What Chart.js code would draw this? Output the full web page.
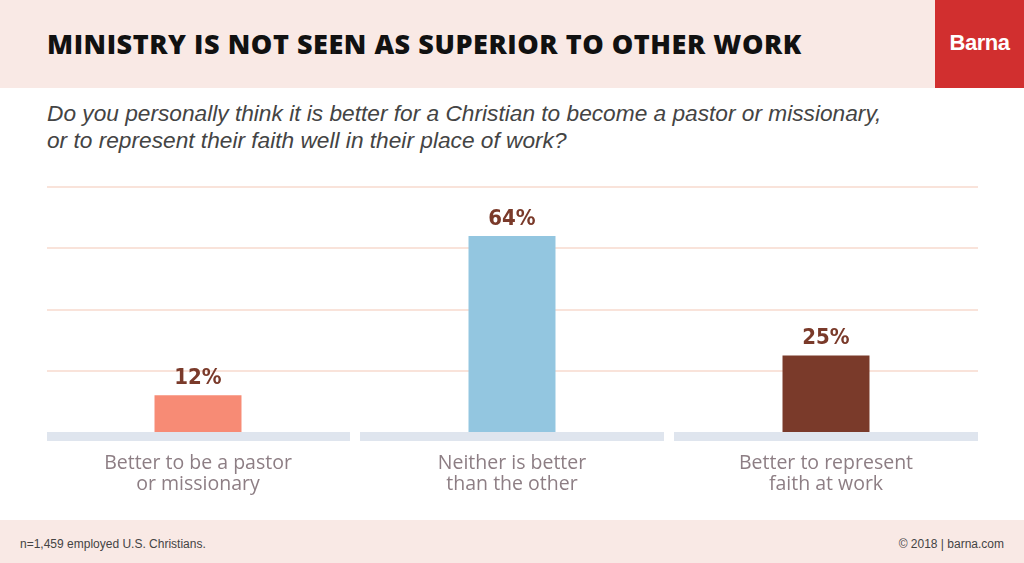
<!DOCTYPE html>
<html>
<head>
<meta charset="utf-8">
<script src="https://cdn.jsdelivr.net/npm/chart.js@4"></script>
<style>
  body { margin:0; width:1024px; height:563px; background:#fff; position:relative; overflow:hidden; font-family:"Open Sans", sans-serif; }
  .head { position:absolute; left:0; top:0; width:1024px; height:88px; background:#f9e9e5; }
  .title { position:absolute; left:47px; top:25px; font:800 27px "Open Sans", sans-serif; color:#111; letter-spacing:0.55px; }
  .logo { position:absolute; left:935px; top:0; width:89px; height:88px; background:#d12f2f; color:#fff; font:bold 22px "Liberation Sans", sans-serif; text-align:center; line-height:86px; letter-spacing:-0.5px; }
  .sub { position:absolute; left:47px; top:100px; font:italic 22.7px "Liberation Sans", sans-serif; color:#444; line-height:27px; }
  .foot { position:absolute; left:0; top:520px; width:1024px; height:43px; background:#f9e9e5; font:12px "Liberation Sans", sans-serif; color:#444; }
  .foot .l { position:absolute; left:20px; top:17px; }
  .foot .r { position:absolute; right:20px; top:17px; }
  #wrap { position:absolute; left:41px; top:150px; width:942px; height:352px; }
</style>
</head>
<body>
<div class="head"><div class="title">MINISTRY IS NOT SEEN AS SUPERIOR TO OTHER WORK</div></div>
<div class="logo">Barna</div>
<div class="sub">Do you personally think it is better for a Christian to become a pastor or missionary,<br>or to represent their faith well in their place of work?</div>
<div id="wrap"><canvas id="c"></canvas></div>
<div class="foot"><span class="l">n=1,459 employed U.S. Christians.</span><span class="r">© 2018 | barna.com</span></div>
<script>
// 데이터
const categories = [['Better to be a pastor', 'or missionary'], ['Neither is better', 'than the other'], ['Better to represent', 'faith at work']];
const values = [12, 64, 25];
const barColors = ['#f78b75', '#93c6e0', '#7a3a2a'];
const gridTicks = [20, 40, 60, 80];

// 그리드선 (좌우 6px 안쪽)
const grid = {
  id: 'grid',
  beforeDatasetsDraw(chart) {
    const { ctx, chartArea, scales } = chart;
    ctx.save();
    ctx.strokeStyle = '#f9e3da';
    ctx.lineWidth = 2;
    gridTicks.forEach(v => {
      const y = Math.round(scales.y.getPixelForValue(v));
      ctx.beginPath();
      ctx.moveTo(chartArea.left + 6, y);
      ctx.lineTo(chartArea.right - 5, y);
      ctx.stroke();
    });
    ctx.restore();
  }
};

// 기준선 밴드, 값 라벨, 카테고리 라벨
const decor = {
  id: 'decor',
  afterDraw(chart) {
    const { ctx, chartArea, scales } = chart;
    const x = scales.x;
    const n = categories.length;
    ctx.save();
    categories.forEach((lab, i) => {
      const cx = x.getPixelForValue(i);
      const l = i === 0 ? chartArea.left + 6 : (x.getPixelForValue(i - 1) + cx) / 2 + 5;
      const r = i === n - 1 ? chartArea.right - 5 : (x.getPixelForValue(i + 1) + cx) / 2 - 5;
      ctx.fillStyle = '#dfe5ee';
      ctx.fillRect(l, chartArea.bottom, r - l, 9);
      ctx.fillStyle = '#8d7e84';
      ctx.font = '19.5px "Open Sans", sans-serif';
      ctx.textAlign = 'center';
      ctx.textBaseline = 'middle';
      ctx.fillText(lab[0], cx, chartArea.bottom + 31);
      ctx.fillText(lab[1], cx, chartArea.bottom + 52);
    });
    chart.getDatasetMeta(0).data.forEach((bar, i) => {
      ctx.fillStyle = '#7a3a2a';
      ctx.font = 'bold 22px "DejaVu Sans Condensed", "Liberation Sans Narrow", sans-serif';
      ctx.textAlign = 'center';
      ctx.textBaseline = 'bottom';
      ctx.fillText(values[i] + '%', bar.x, bar.y - 6);
    });
    ctx.restore();
  }
};

new Chart(document.getElementById('c'), {
  type: 'bar',
  data: {
    labels: categories.map(c => c.join(' ')),
    datasets: [{ data: values, backgroundColor: barColors, barPercentage: 0.277, categoryPercentage: 1 }]
  },
  options: {
    responsive: true,
    maintainAspectRatio: false,
    animation: false,
    layout: { padding: { top: 37, bottom: 70, left: 0, right: 0 } },
    plugins: { legend: { display: false }, tooltip: { enabled: false } },
    scales: {
      x: { display: false },
      y: { display: false, min: 0, max: 80 }
    }
  },
  plugins: [grid, decor]
});
</script>
</body>
</html>
